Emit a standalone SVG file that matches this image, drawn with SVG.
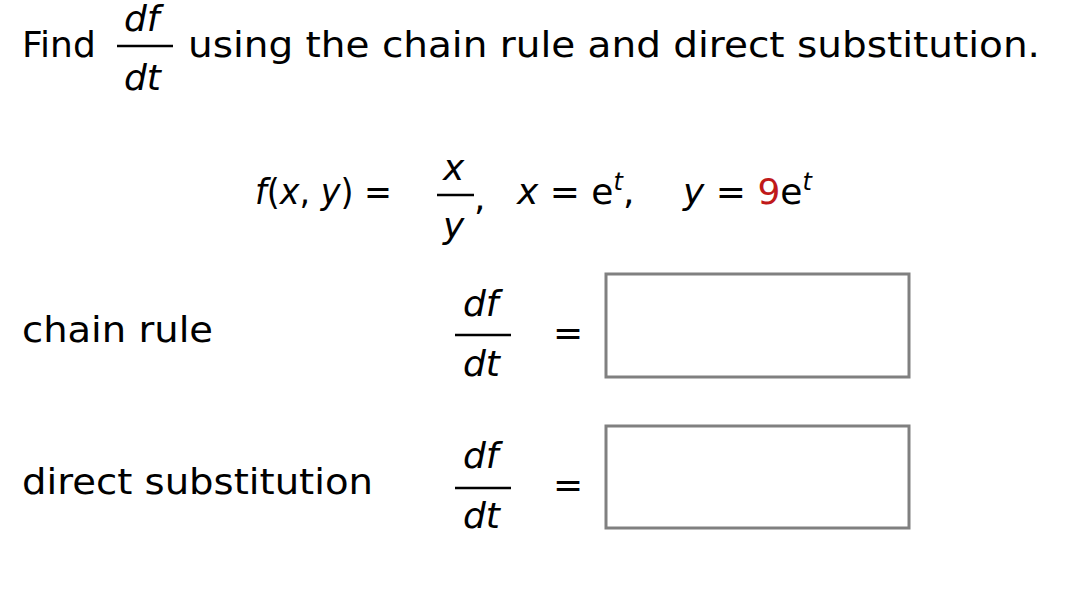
<svg xmlns="http://www.w3.org/2000/svg" width="1080" height="597" viewBox="0 0 1080 597">
<style>
text{font-family:"DejaVu Sans","Verdana",sans-serif;font-size:36px;fill:#000}
.i{font-style:italic}
.bar{stroke:#000;stroke-width:2.5}
.box{fill:#fff;stroke:#808080;stroke-width:3}
</style>
<rect width="1080" height="597" fill="#fff"/>
<text x="22" y="57">Find</text>
<text class="i" x="124" y="31" font-size="32">df</text>
<line class="bar" x1="117" y1="46" x2="173" y2="46"/>
<text class="i" x="124" y="90" font-size="33">dt</text>
<text x="188" y="57" textLength="852" lengthAdjust="spacingAndGlyphs">using the chain rule and direct substitution.</text>
<text x="255" y="204" font-size="34" textLength="137" lengthAdjust="spacingAndGlyphs"><tspan class="i">f</tspan>(<tspan class="i">x</tspan>, <tspan class="i">y</tspan>) =</text>
<text class="i" x="443" y="180" font-size="32">x</text>
<line class="bar" x1="437" y1="195" x2="474" y2="195"/>
<text class="i" x="443" y="238" font-size="32">y</text>
<text x="474" y="210" font-size="34">,</text>
<text x="517" y="204" font-size="34"><tspan class="i">x</tspan> = e<tspan class="i" font-size="24" dy="-14">t</tspan><tspan dy="14">,</tspan></text>
<text x="683" y="204" font-size="34"><tspan class="i">y</tspan> = <tspan fill="#c0191a">9</tspan>e<tspan class="i" font-size="24" dy="-14">t</tspan></text>
<text x="22" y="342" textLength="191" lengthAdjust="spacingAndGlyphs">chain rule</text>
<text class="i" x="463" y="316" font-size="33">df</text>
<line class="bar" x1="455" y1="335" x2="511" y2="335"/>
<text class="i" x="463" y="376" font-size="33">dt</text>
<text x="553" y="345">=</text>
<rect class="box" x="606" y="274" width="303" height="103"/>
<text x="22" y="494" textLength="351" lengthAdjust="spacingAndGlyphs">direct substitution</text>
<text class="i" x="463" y="468" font-size="33">df</text>
<line class="bar" x1="455" y1="488" x2="511" y2="488"/>
<text class="i" x="463" y="528" font-size="33">dt</text>
<text x="553" y="497">=</text>
<rect class="box" x="606" y="426" width="303" height="102"/>
</svg>
